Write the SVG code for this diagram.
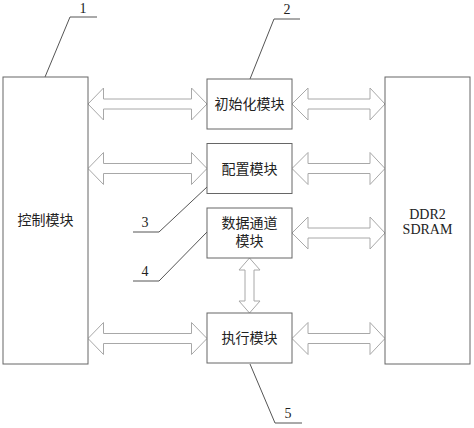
<svg xmlns="http://www.w3.org/2000/svg" width="474" height="428" viewBox="0 0 474 428">
<style>
.box{fill:#fff;stroke:#666;stroke-width:1}
.arr{fill:#fff;stroke:#a8a8a8;stroke-width:1;stroke-linejoin:miter}
.lead{fill:none;stroke:#555;stroke-width:1}
.t{font-family:"Liberation Serif","Noto Sans CJK SC",serif;font-size:14px;fill:#222;text-anchor:middle}
</style>
<rect width="474" height="428" fill="#fff"/>
<g id="connectors">
<path class="arr" d="M88,104 L103.5,88 L103.5,99 L191.5,99 L191.5,88 L207,104 L191.5,120 L191.5,109 L103.5,109 L103.5,120 Z"/>
<path class="arr" d="M88,168.5 L103.5,152.5 L103.5,163.5 L191.5,163.5 L191.5,152.5 L207,168.5 L191.5,184.5 L191.5,173.5 L103.5,173.5 L103.5,184.5 Z"/>
<path class="arr" d="M88,338.5 L103.5,322.5 L103.5,333.5 L191.5,333.5 L191.5,322.5 L207,338.5 L191.5,354.5 L191.5,343.5 L103.5,343.5 L103.5,354.5 Z"/>
<path class="arr" d="M292,104 L308,88 L308,99 L370,99 L370,88 L385,104 L370,120 L370,109 L308,109 L308,120 Z"/>
<path class="arr" d="M292,168.5 L308,152.5 L308,163.5 L370,163.5 L370,152.5 L385,168.5 L370,184.5 L370,173.5 L308,173.5 L308,184.5 Z"/>
<path class="arr" d="M292,233 L308,217 L308,228 L370,228 L370,217 L385,233 L370,249 L370,238 L308,238 L308,249 Z"/>
<path class="arr" d="M292,338.5 L308,322.5 L308,333.5 L370,333.5 L370,322.5 L385,338.5 L370,354.5 L370,343.5 L308,343.5 L308,354.5 Z"/>
<path class="arr" d="M249.5,258 L260,270 L254,270 L254,301 L260,301 L249.5,313 L239,301 L245,301 L245,270 L239,270 Z"/>
<polyline class="lead" points="97,17 70,17 45,77"/>
<polyline class="lead" points="300,19 274,19 250,79"/>
<polyline class="lead" points="133,232 159,232 207,187"/>
<polyline class="lead" points="133,281 159,281 207,232" stroke="#777"/>
<polyline class="lead" points="250,364 275,423 302,423"/>
</g>
<g id="ctrl">
<rect class="box" x="3" y="77" width="85" height="287"/>
<text class="t" x="45.5" y="225">控制模块</text>
</g>
<g id="ddr">
<rect class="box" x="385" y="77" width="85" height="287"/>
<text class="t" x="427.5" y="219">DDR2</text>
<text class="t" x="427.5" y="234">SDRAM</text>
</g>
<g id="init">
<rect class="box" x="207" y="79" width="85" height="50"/>
<text class="t" x="249.5" y="109">初始化模块</text>
</g>
<g id="config">
<rect class="box" x="207" y="143.5" width="85" height="50"/>
<text class="t" x="249.5" y="173.5">配置模块</text>
</g>
<g id="datapath">
<rect class="box" x="207" y="208" width="85" height="50"/>
<text class="t" x="249.5" y="228">数据通道</text>
<text class="t" x="249.5" y="246">模块</text>
</g>
<g id="exec">
<rect class="box" x="207" y="313" width="85" height="50"/>
<text class="t" x="249.5" y="343">执行模块</text>
</g>
<g id="labels">
<text class="t" x="83" y="13">1</text>
<text class="t" x="287" y="14">2</text>
<text class="t" x="145" y="227">3</text>
<text class="t" x="145" y="276">4</text>
<text class="t" x="288" y="418">5</text>
</g>
</svg>
